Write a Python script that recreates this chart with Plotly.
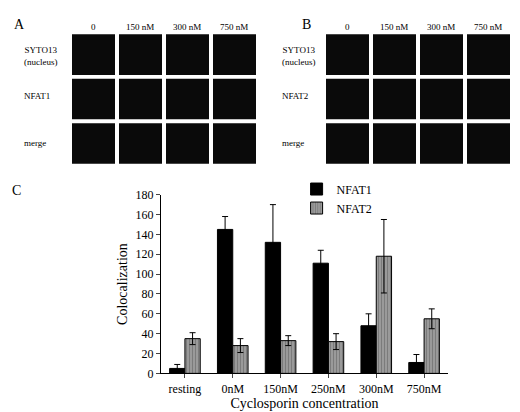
import plotly.graph_objects as go

categories = ["resting", "0nM", "150nM", "250nM", "300nM", "750nM"]
nfat1 = [5, 145, 132, 111, 48, 11]
nfat1_err = [4, 13, 38, 13, 12, 8]
nfat2 = [35, 28, 33, 32, 118, 55]
nfat2_err = [6, 7, 5, 8, 37, 10]

W, H = 520, 412
serif = "Liberation Serif"

fig = go.Figure()
fig.add_trace(go.Bar(
    x=categories, y=nfat1, name="NFAT1",
    marker=dict(color="black", line=dict(color="black", width=1)),
    error_y=dict(type="data", array=nfat1_err, color="black", thickness=1, width=3),
))
fig.add_trace(go.Bar(
    x=categories, y=nfat2, name="NFAT2",
    marker=dict(color="#9a9a9a", line=dict(color="black", width=1),
                pattern=dict(shape="|", fgcolor="#555555", size=3, solidity=0.3)),
    error_y=dict(type="data", array=nfat2_err, color="black", thickness=1, width=3),
))

# decorative microscopy panel placeholders (panels A and B)
shapes = []
for x0 in [64, 111, 158, 205, 318, 365, 412, 459]:
    for y0 in [20, 66, 112]:
        shapes.append(dict(type="rect", xref="paper", yref="paper",
                           x0=x0 / W, x1=(x0 + 43) / W, y0=1 - (y0 + 42) / H, y1=1 - y0 / H,
                           fillcolor="#0a0a0a", line=dict(width=0)))

annotations = []
def txt(s, px, py, size=10, anchor="center"):
    annotations.append(dict(text=s, x=px / W, y=1 - py / H, xref="paper", yref="paper",
                            showarrow=False, xanchor=anchor, yanchor="middle",
                            font=dict(family=serif, size=size, color="black")))

txt("A", 4, 10, 14, "left"); txt("B", 292, 10, 14, "left"); txt("C", 2, 182, 14, "left")
for s, px in zip(["0", "150 nM", "300 nM", "750 nM"], [85, 132, 179, 226]):
    txt(s, px, 12, 9)
for s, px in zip(["0", "150 nM", "300 nM", "750 nM"], [339, 386, 433, 480]):
    txt(s, px, 12, 9)
for off in [4, 262]:
    txt("SYTO13<br>(nucleus)", off + 10, 42, 9, "left")
    txt("NFAT%d" % (1 if off == 4 else 2), off + 10, 84, 9, "left")
    txt("merge", off + 10, 132, 9, "left")

fig.update_layout(
    width=W, height=H, margin=dict(l=0, r=0, t=0, b=0),
    paper_bgcolor="white", plot_bgcolor="white",
    barmode="group", bargap=0.36, bargroupgap=0,
    font=dict(family=serif, size=12, color="black"),
    shapes=shapes, annotations=annotations,
    legend=dict(x=0.555, y=1 - 190 / H, xref="paper", yref="paper", bgcolor="rgba(0,0,0,0)",
                font=dict(family=serif, size=12), itemwidth=30, tracegroupgap=0),
    xaxis=dict(domain=[153 / W, 440 / W], showline=True, linecolor="black",
               ticks="outside", ticklen=4, title=dict(text="Cyclosporin concentration", standoff=2),
               tickfont=dict(size=12)),
    yaxis=dict(domain=[(H - 371) / H, (H - 186) / H], range=[0, 180], dtick=20,
               showline=True, linecolor="black", ticks="outside", ticklen=4,
               showgrid=False, zeroline=False, title=dict(text="Colocalization", standoff=4)),
)
fig.write_html("out.html")
